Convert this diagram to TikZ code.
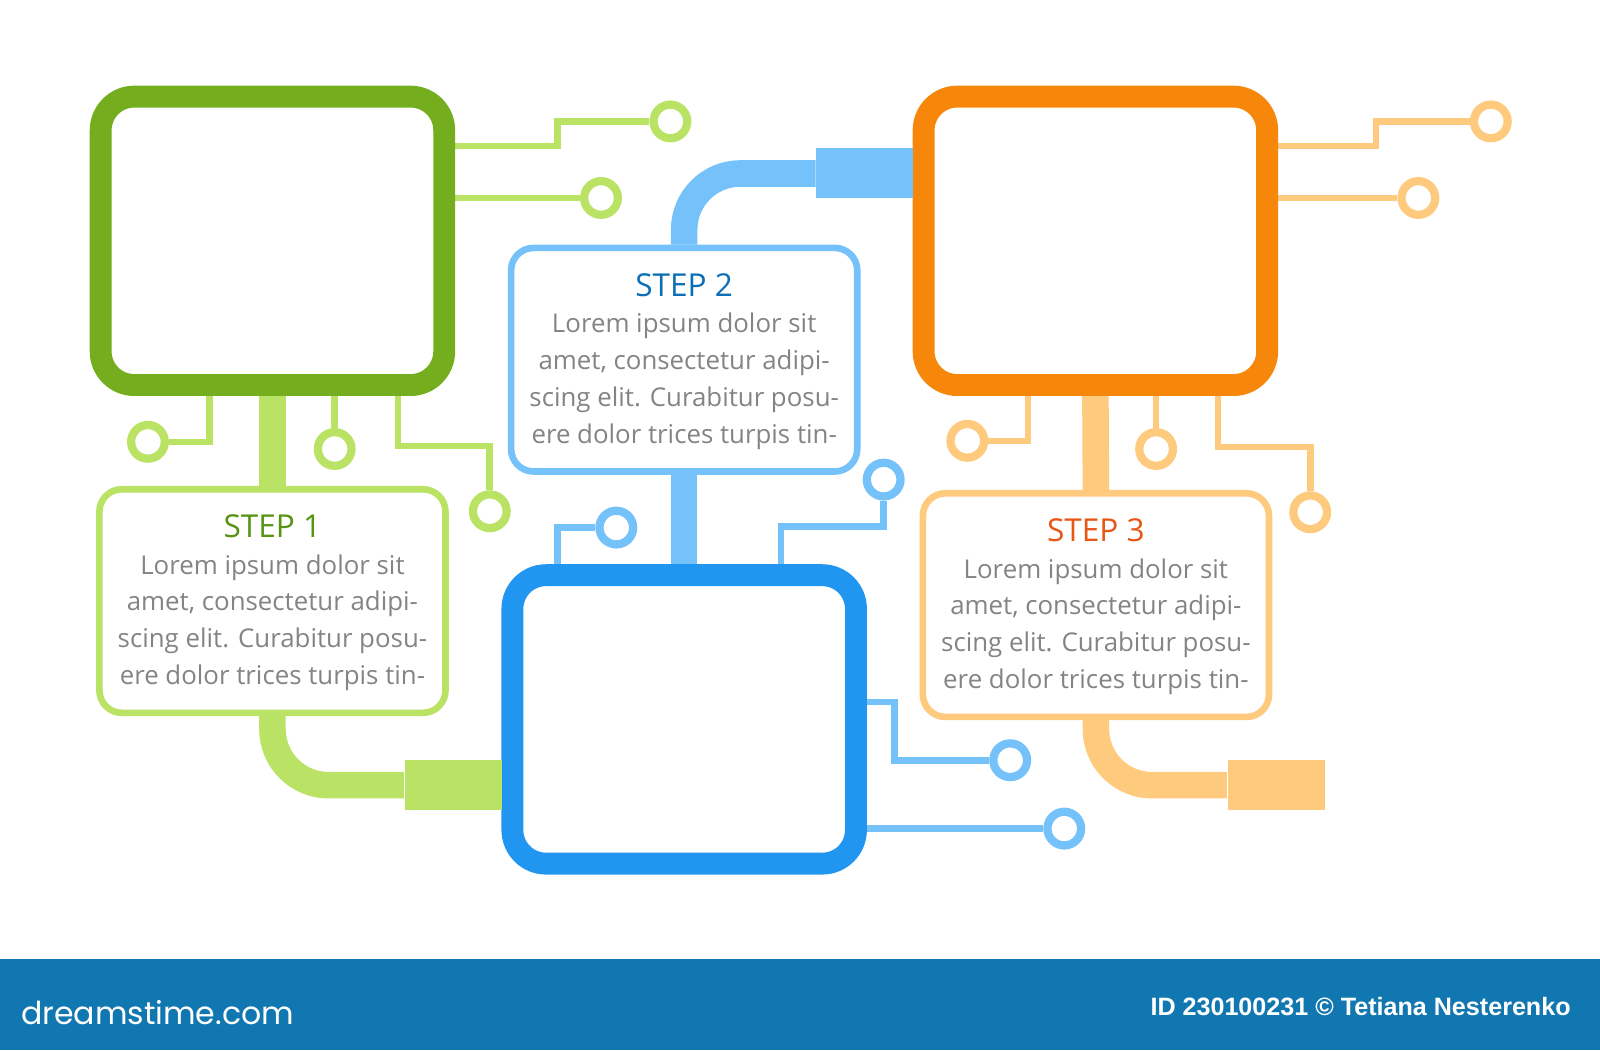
\documentclass[tikz,border=0pt]{standalone}
\usepackage{fontspec}
\setmainfont{Open Sans}
\newfontfamily\logofont{Poppins}
\newfontfamily\creditfont{Liberation Sans}
\usetikzlibrary{positioning,calc,backgrounds}
\definecolor{cigreen}{RGB}{116,174,30}
\definecolor{cigreenlt}{RGB}{186,227,102}
\definecolor{cigreentx}{RGB}{88,148,20}
\definecolor{ciblue}{RGB}{33,150,240}
\definecolor{cibluelt}{RGB}{117,193,250}
\definecolor{cibluetx}{RGB}{12,110,180}
\definecolor{ciorange}{RGB}{247,135,10}
\definecolor{ciorangelt}{RGB}{254,202,125}
\definecolor{ciorangetx}{RGB}{232,86,22}
\definecolor{cigray}{RGB}{132,132,132}
\definecolor{cibar}{RGB}{17,119,176}
\tikzset{
  cibig/.style={draw=#1, fill=white, line width=6.1pt, rounded corners=0.33cm,
    minimum width=3.365cm, minimum height=2.825cm, inner sep=0pt},
  cistep/.style={draw=#1, fill=white, line width=1.85pt, rounded corners=0.22cm,
    minimum width=3.39cm, minimum height=2.19cm, inner sep=0pt},
  cititle/.style={font=\fontsize{8.8}{10}\selectfont, text=#1, inner sep=0pt},
  cibody/.style={font=\fontsize{7.2}{10.25}\selectfont, text=cigray, align=center, inner sep=0pt},
  cipin/.style={circle, draw=#1, fill=white, line width=2.3pt, minimum size=0.33cm, inner sep=0pt},
  ciwire/.style={draw=#1, line width=1.85pt},
  cibus/.style={draw=#1, line width=0.26cm, rounded corners=0.55cm},
  ciplug/.style={fill=#1, minimum width=0.95cm, minimum height=0.49cm, inner sep=0pt},
}

\begin{document}
\begin{tikzpicture}[x=0.01cm, y=-0.01cm]
    \useasboundingbox (0,0) rectangle (1568,1029);

    % big frames
    \node[cibig=cigreen] (g1) at (267,236) {};
    \node[cibig=ciblue] (b2) at (670.5,705) {};
    \node[cibig=ciorange] (o3) at (1073.5,236) {};

    % step cards
    \node[cistep=cigreenlt] (s1) at (267,589) {};
    \node[cistep=cibluelt] (s2) at (670.5,352.5) {};
    \node[cistep=ciorangelt] (s3) at (1074,593) {};

    \node[cititle=cigreentx] (h1) at ($(s1.center)+(0,-73)$) {STEP 1};
    \node[cititle=cibluetx] (h2) at ($(s2.center)+(0,-73)$) {STEP 2};
    \node[cititle=ciorangetx] (h3) at ($(s3.center)+(0,-73)$) {STEP 3};
    \node[cibody] (t1) at ($(s1.center)+(0,21)$) {Lorem ipsum dolor sit\\amet, consectetur adipi-\\scing elit. Curabitur posu-\\ere dolor trices turpis tin-};
    \node[cibody] (t2) at ($(s2.center)+(0,21)$) {Lorem ipsum dolor sit\\amet, consectetur adipi-\\scing elit. Curabitur posu-\\ere dolor trices turpis tin-};
    \node[cibody] (t3) at ($(s3.center)+(0,21)$) {Lorem ipsum dolor sit\\amet, consectetur adipi-\\scing elit. Curabitur posu-\\ere dolor trices turpis tin-};

    % plugs
    \node[ciplug=cigreenlt] (gp) at (444,769.5) {};
    \node[ciplug=cibluelt] (bp) at (847.5,170) {};
    \node[ciplug=ciorangelt] (op) at (1250.5,769.5) {};

    % pins
    \node[cipin=cigreenlt] (c1) at (657,119) {};
    \node[cipin=cigreenlt] (c2) at (589,194) {};
    \node[cipin=cigreenlt] (c3) at (145,433) {};
    \node[cipin=cigreenlt] (c4) at (328,440) {};
    \node[cipin=cigreenlt] (c5) at (480,501) {};
    \node[cipin=cibluelt] (c6) at (604,517) {};
    \node[cipin=cibluelt] (c7) at (866,470) {};
    \node[cipin=cibluelt] (c8) at (990,745) {};
    \node[cipin=cibluelt] (c9) at (1043,812) {};
    \node[cipin=ciorangelt] (c10) at (1461,119) {};
    \node[cipin=ciorangelt] (c11) at (1390,194) {};
    \node[cipin=ciorangelt] (c12) at (948,432) {};
    \node[cipin=ciorangelt] (c13) at (1133,440) {};
    \node[cipin=ciorangelt] (c14) at (1284,502) {};

    \begin{scope}[on background layer]
      % trunks and cables
      \draw[cibus=cigreenlt] (g1.south) -- (s1.north);
      \draw[cibus=cibluelt] (s2.south) -- (b2.north);
      \draw[cibus=ciorangelt] (o3.south) -- (s3.north);
      \draw[cibus=cigreenlt] (s1.south) |- (gp.west);
      \draw[cibus=cibluelt] (s2.north) |- (bp.west);
      \draw[cibus=ciorangelt] (s3.south) |- (op.west);

      % traces
      \draw[ciwire=cigreenlt] ($(g1.east)+(0,-93)$) -- ++(100,0) |- (c1);
      \draw[ciwire=cigreenlt] (g1.east |- c2) -- (c2);
      \draw[ciwire=cigreenlt] ($(g1.south)+(-62,0)$) |- (c3);
      \draw[ciwire=cigreenlt] (c4 |- g1.south) -- (c4);
      \draw[ciwire=cigreenlt] ($(g1.south)+(123,0)$) -- ++(0,49) -| (c5);

      \draw[ciwire=cibluelt] ($(b2.north)+(-124,0)$) |- (c6);
      \draw[ciwire=cibluelt] ($(b2.north)+(95,0)$) -- ++(0,-37) -| (c7);
      \draw[ciwire=cibluelt] ($(b2.east)+(0,-17)$) -- ++(27,0) |- (c8);
      \draw[ciwire=cibluelt] (b2.east |- c9) -- (c9);

      \draw[ciwire=ciorangelt] ($(o3.east)+(0,-93)$) -- ++(96,0) |- (c10);
      \draw[ciwire=ciorangelt] (o3.east |- c11) -- (c11);
      \draw[ciwire=ciorangelt] ($(o3.south)+(-66,0)$) |- (c12);
      \draw[ciwire=ciorangelt] (c13 |- o3.south) -- (c13);
      \draw[ciwire=ciorangelt] ($(o3.south)+(120,0)$) -- ++(0,50) -| (c14);
    \end{scope}

    % footer bar
    \node[fill=cibar, minimum width=15.68cm, minimum height=0.89cm, inner sep=0pt] (bar) at (784,984.5) {};
    \node[font=\logofont\fontsize{8.8}{10}\selectfont, text=white, anchor=west, inner sep=0pt] (logo) at (20,992) {dreamstime.com};
    \node[font=\creditfont\bfseries\fontsize{7}{9}\selectfont, text=white, anchor=east, inner sep=0pt] (credit) at (1540,986) {ID 230100231 © Tetiana Nesterenko};
  \end{tikzpicture}
\end{document}
